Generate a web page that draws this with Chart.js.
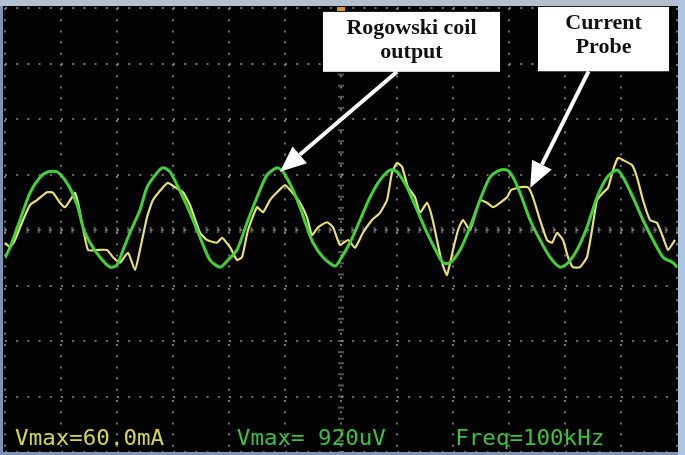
<!DOCTYPE html>
<html>
<head>
<meta charset="utf-8">
<script src="https://cdn.jsdelivr.net/npm/chart.js@4"></script>
<style>
  body { margin: 0; background: #9fb0c4; }
  canvas { display: block; }
</style>
</head>
<body>
<canvas id="scope" width="685" height="455"></canvas>
<script>
// time in microseconds (5 us/div), amplitude in screen divisions
const coilTime = [0, 0.45, 1.34, 2.23, 3.13, 3.84, 4.64, 5.36, 5.98, 6.52, 6.96, 7.59, 8.48, 9.38, 10.0, 10.54, 11.16, 12.05, 12.68, 13.57, 14.11, 14.73, 15.89, 16.52, 17.41, 18.3, 19.2, 19.91, 20.71, 21.61, 22.5, 23.39, 24.29, 24.82, 25.71, 26.34, 26.96, 27.5, 28.39, 29.46, 29.91, 30.8, 31.7, 32.59, 33.48, 34.38, 35.0, 35.89, 36.79, 37.68, 38.57, 39.11, 39.73, 40.63, 41.52, 42.41, 43.3, 44.2, 44.82, 45.36, 45.98, 46.88, 47.77, 48.66, 49.55, 50.27, 51.07, 51.96, 52.86, 53.75, 54.64, 55.18, 56.07, 56.96, 57.86, 58.75, 59.64, 60.0];
const coilDiv = [-0.5, -0.31, 0.18, 0.67, 0.95, 1.05, 1.05, 0.9, 0.68, 0.4, 0.05, -0.23, -0.49, -0.67, -0.63, -0.36, -0.05, 0.36, 0.77, 1.03, 1.12, 1.05, 0.59, 0.31, -0.13, -0.54, -0.67, -0.54, -0.36, 0.13, 0.59, 0.99, 1.12, 1.05, 0.72, 0.41, 0.05, -0.23, -0.49, -0.65, -0.54, -0.23, 0.18, 0.59, 0.9, 1.08, 1.05, 0.77, 0.36, -0.05, -0.41, -0.59, -0.59, -0.36, 0.05, 0.54, 0.95, 1.08, 1.08, 0.95, 0.67, 0.18, -0.18, -0.49, -0.67, -0.59, -0.36, 0.05, 0.59, 0.95, 1.08, 0.95, 0.59, 0.18, -0.18, -0.49, -0.59, -0.67];

const probeTime = [0, 0.45, 0.89, 1.61, 2.23, 2.86, 3.75, 4.29, 4.91, 5.36, 5.98, 6.25, 6.52, 6.88, 7.41, 8.21, 9.11, 9.64, 10.27, 10.98, 11.61, 12.05, 12.68, 13.21, 14.11, 14.55, 15.18, 15.89, 16.52, 17.41, 18.04, 18.93, 19.38, 20.09, 20.71, 21.16, 21.7, 22.5, 23.04, 23.66, 24.29, 25.0, 25.63, 26.34, 26.96, 27.41, 27.95, 28.75, 29.29, 29.91, 30.63, 31.25, 31.96, 32.77, 33.48, 34.11, 34.55, 35.0, 35.45, 35.98, 36.61, 37.05, 37.68, 38.13, 38.57, 39.02, 39.46, 40.0, 40.45, 40.89, 41.52, 42.41, 43.04, 43.57, 44.2, 44.82, 45.18, 45.98, 46.7, 47.14, 47.77, 48.39, 48.84, 49.29, 49.82, 50.27, 50.71, 51.34, 51.96, 52.41, 52.86, 53.39, 53.84, 54.29, 54.73, 55.18, 55.98, 56.43, 56.96, 57.59, 58.21, 58.75, 59.2, 59.82];
const probeDiv = [-0.23, -0.31, -0.18, 0.18, 0.45, 0.54, 0.68, 0.67, 0.49, 0.41, 0.59, 0.67, 0.49, 0.13, -0.36, -0.36, -0.36, -0.49, -0.59, -0.41, -0.72, -0.36, 0.23, 0.54, 0.77, 0.85, 0.77, 0.68, 0.45, -0.05, -0.18, -0.23, -0.14, -0.31, -0.54, -0.49, 0, 0.41, 0.32, 0.54, 0.68, 0.81, 0.68, 0.49, 0.23, -0.09, 0.05, 0.14, 0.05, -0.27, -0.18, -0.32, -0.05, 0.18, 0.31, 0.54, 1.03, 1.21, 1.14, 0.77, 0.59, 0.31, 0.49, 0.23, -0.18, -0.59, -0.81, -0.36, 0, 0.18, 0, 0.54, 0.49, 0.41, 0.49, 0.59, 0.72, 0.77, 0.77, 0.59, 0.18, -0.18, -0.23, -0.05, -0.18, -0.49, -0.67, -0.67, -0.49, 0, 0.54, 0.67, 0.76, 1.08, 1.3, 1.26, 1.17, 0.95, 0.54, 0.18, 0.13, -0.13, -0.36, -0.18];

const readouts = ["Vmax=60.0mA", "Vmax= 920uV", "Freq=100kHz"];
const readoutTime = [0.9, 20.7, 40.2];
const callouts = [
  { lines: ["Rogowski coil", "output"], box: [28.39, 3.93, 44.2, 2.85], from: [35.0, 2.85], to: [24.55, 1.05] },
  { lines: ["Current", "Probe"], box: [47.59, 4.02, 59.29, 2.86], from: [52.1, 2.86], to: [46.9, 0.76] }
];

const toPoints = (xs, ys) => xs.map((x, i) => ({ x: x, y: ys[i] }));

const scopeScreen = {
  id: "scopeScreen",
  beforeDraw(chart) {
    const { ctx, chartArea: a } = chart;
    ctx.save();
    ctx.fillStyle = "#7d93b3";
    ctx.fillRect(0, 0, chart.width, chart.height);
    ctx.fillStyle = "#b4c0cf";
    ctx.fillRect(0, 0, chart.width, 6);
    ctx.fillStyle = "#aec6e6";
    ctx.fillRect(a.right + 1, 0, chart.width - a.right, chart.height);
    ctx.fillStyle = "#020202";
    ctx.fillRect(a.left - 2, a.top - 2, a.right - a.left + 3, a.bottom - a.top + 2);
    ctx.restore();
  },
  beforeDatasetsDraw(chart) {
    // minor ticks along the centre axes
    const { ctx, scales: { x, y } } = chart;
    const cx = x.getPixelForValue(30), cy = y.getPixelForValue(0);
    ctx.save();
    ctx.strokeStyle = "rgba(140,140,140,0.6)";
    ctx.lineWidth = 2;
    for (let t = 0; t <= 60; t += 1) {
      const px = x.getPixelForValue(t);
      ctx.beginPath(); ctx.moveTo(px, cy - 3); ctx.lineTo(px, cy + 3); ctx.stroke();
    }
    for (let v = -4; v <= 4; v += 0.2) {
      const py = y.getPixelForValue(v);
      ctx.beginPath(); ctx.moveTo(cx - 3, py); ctx.lineTo(cx + 3, py); ctx.stroke();
    }
    // trigger marker
    ctx.fillStyle = "#e09030";
    ctx.fillRect(cx - 4, chart.chartArea.top - 1, 8, 4);
    ctx.restore();
  },
  afterDraw(chart) {
    const { ctx, scales: { x, y } } = chart;
    ctx.save();
    // readouts
    ctx.font = "21px 'DejaVu Sans Mono'";
    ctx.textBaseline = "alphabetic";
    const colors = ["#d6d64c", "#3cc23c", "#3cc23c"];
    readouts.forEach((txt, i) => {
      const w = ctx.measureText(txt).width;
      ctx.save();
      ctx.translate(x.getPixelForValue(readoutTime[i]), y.getPixelForValue(-3.88));
      ctx.scale(149 / w, 1);
      ctx.fillStyle = colors[i];
      ctx.fillText(txt, 0, 0);
      ctx.restore();
    });
    // callout boxes and arrows
    callouts.forEach(c => {
      const x0 = x.getPixelForValue(c.box[0]), y0 = y.getPixelForValue(c.box[1]);
      const x1 = x.getPixelForValue(c.box[2]), y1 = y.getPixelForValue(c.box[3]);
      ctx.fillStyle = "#ffffff";
      ctx.fillRect(x0, y0, x1 - x0, y1 - y0);
      ctx.fillStyle = "#111111";
      ctx.font = "bold 22px 'Liberation Serif'";
      ctx.textAlign = "center";
      const mx = (x0 + x1) / 2;
      ctx.fillText(c.lines[0], mx, y0 + 22);
      ctx.fillText(c.lines[1], mx, y0 + 46);

      const sx = x.getPixelForValue(c.from[0]), sy = y.getPixelForValue(c.from[1]);
      const tx = x.getPixelForValue(c.to[0]), ty = y.getPixelForValue(c.to[1]);
      const ang = Math.atan2(ty - sy, tx - sx);
      const headLen = 26, headW = 11;
      const bx = tx - headLen * Math.cos(ang), by = ty - headLen * Math.sin(ang);
      ctx.strokeStyle = "#ffffff";
      ctx.lineWidth = 4;
      ctx.beginPath(); ctx.moveTo(sx, sy); ctx.lineTo(bx, by); ctx.stroke();
      ctx.fillStyle = "#ffffff";
      ctx.beginPath();
      ctx.moveTo(tx, ty);
      ctx.lineTo(bx + headW * Math.sin(ang), by - headW * Math.cos(ang));
      ctx.lineTo(bx - headW * Math.sin(ang), by + headW * Math.cos(ang));
      ctx.closePath();
      ctx.fill();
    });
    ctx.restore();
  }
};

const dottedGrid = {
  color: "rgba(140,140,140,0.8)",
  lineWidth: 2,
  drawTicks: false
};
const dottedBorder = { display: false, dash: [2, 9.2], dashOffset: 0 };

new Chart(document.getElementById("scope"), {
  type: "line",
  data: {
    datasets: [
      {
        label: "Rogowski coil output",
        data: toPoints(coilTime, coilDiv),
        borderColor: "#40d236",
        borderWidth: 3,
        pointRadius: 0,
        tension: 0.25
      },
      {
        label: "Current Probe",
        data: toPoints(probeTime, probeDiv),
        borderColor: "#e8e070",
        borderWidth: 2.2,
        pointRadius: 0,
        tension: 0.15
      }
    ]
  },
  options: {
    responsive: false,
    animation: false,
    layout: { padding: { left: 5, top: 8, right: 8, bottom: 3 } },
    plugins: { legend: { display: false }, tooltip: { enabled: false } },
    scales: {
      x: {
        type: "linear",
        min: 0,
        max: 60,
        ticks: { display: false, stepSize: 5 },
        grid: dottedGrid,
        border: dottedBorder
      },
      y: {
        min: -4,
        max: 4,
        ticks: { display: false, stepSize: 1 },
        grid: dottedGrid,
        border: dottedBorder
      }
    }
  },
  plugins: [scopeScreen]
});
</script>
</body>
</html>
